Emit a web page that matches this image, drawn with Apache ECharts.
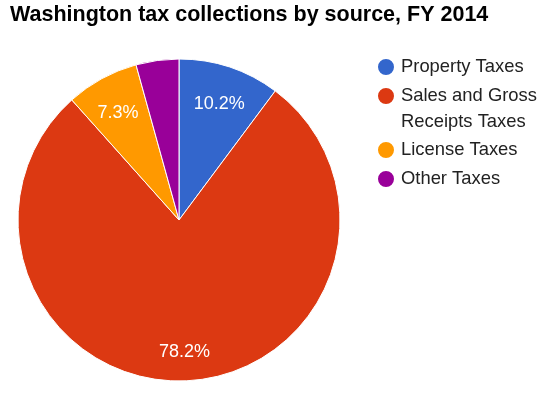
<!DOCTYPE html>
<html>
<head>
<meta charset="utf-8">
<script src="https://cdn.jsdelivr.net/npm/echarts@6/dist/echarts.min.js"></script>
<style>
  html, body { margin: 0; padding: 0; background: #fff; }
  #main { width: 550px; height: 400px; }
</style>
</head>
<body>
<div id="main"></div>
<script>
/*********** data ***********/
var categories = ['Property Taxes', 'Sales and Gross Receipts Taxes', 'License Taxes', 'Other Taxes'];
var shares = [10.2, 78.2, 7.3, 4.3];
var colors = ['#3366cc', '#dc3912', '#ff9900', '#990099'];

var FONT = 'Arial, "Liberation Sans", sans-serif';
var legendTops = [57, 57, 140, 169];

var pieData = categories.map(function(name, i) {
    return { name: name, value: shares[i], itemStyle: { color: colors[i] } };
});

// one legend per entry so the two-line entry keeps its dot on the first line
// (an empty first line balances the wrapped second line around the dot)
var legends = categories.map(function(name, i) {
    var two = name.indexOf('Gross ') > -1;
    return {
        data: [name],
        orient: 'vertical',
        left: 376,
        top: legendTops[i],
        padding: 0,
        icon: 'circle',
        itemWidth: 20,
        itemHeight: 18,
        selectedMode: false,
        formatter: function(n) {
            return n.indexOf('Gross ') > -1 ? '\n' + n.replace('Gross ', 'Gross\n') : n;
        },
        textStyle: {
            fontFamily: FONT,
            fontSize: 18.4,
            color: '#222',
            lineHeight: two ? 26 : 18
        }
    };
});

var myChart = echarts.init(document.getElementById('main'));

var option = {
    backgroundColor: '#fff',
    animation: false,
    title: {
        text: 'Washington tax collections by source, FY 2014',
        left: 10,
        top: 4,
        padding: 0,
        textStyle: {
            fontFamily: FONT,
            fontSize: 21.5,
            fontWeight: 'bold',
            color: '#000'
        }
    },
    legend: legends,
    series: [{
        name: 'slices',
        type: 'pie',
        center: [179, 220],
        radius: 161,
        startAngle: 90,
        clockwise: true,
        avoidLabelOverlap: false,
        label: { show: false },
        labelLine: { show: false },
        itemStyle: { borderColor: '#fff', borderWidth: 1 },
        emphasis: { disabled: true },
        data: pieData
    }, {
        // transparent ring only used to put the % labels further out
        name: 'labels',
        type: 'pie',
        silent: true,
        center: [179, 220],
        radius: [88, 161],
        startAngle: 90,
        clockwise: true,
        percentPrecision: 1,
        minShowLabelAngle: 20,
        avoidLabelOverlap: false,
        itemStyle: { color: 'transparent', borderWidth: 0 },
        label: {
            show: true,
            position: 'inside',
            formatter: '{d}%',
            offset: [0, 5],
            fontFamily: FONT,
            fontSize: 18,
            color: '#fff'
        },
        labelLine: { show: false },
        data: categories.map(function(name, i) {
            return { name: name, value: shares[i] };
        })
    }]
};

myChart.setOption(option);
</script>
</body>
</html>
